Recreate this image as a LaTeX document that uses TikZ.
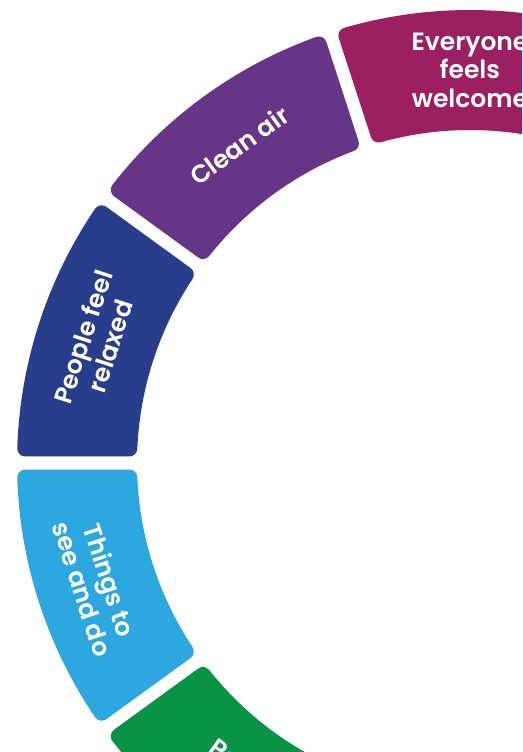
\documentclass[tikz,border=0pt]{standalone}
\usepackage{fontspec}
\setmainfont{Poppins}[BoldFont={Poppins SemiBold}]
\definecolor{cwelcome}{HTML}{9C1F61}
\definecolor{cclean}{HTML}{673587}
\definecolor{crelax}{HTML}{283E8D}
\definecolor{cthings}{HTML}{2DA7DF}
\definecolor{csafe}{HTML}{089346}
\newcommand\ringseg[3]{%
  \pgfmathsetmacro\ao{#1+1.87}\pgfmathsetmacro\bo{#2-1.87}%
  \pgfmathsetmacro\ai{#1+2.44}\pgfmathsetmacro\bi{#2-2.44}%
  \path[segment, fill=#3, draw=#3]
    ([shift={(470,289)}]\ao:445) arc[start angle=\ao, end angle=\bo, radius=445]
    -- ([shift={(470,289)}]\bi:341) arc[start angle=\bi, end angle=\ai, radius=341]
    -- cycle;}
\begin{document}
\begin{tikzpicture}[x=1pt,y=1pt,
  segment/.style={line width=16pt, line join=round},
  lbl/.style={text=white, font=\bfseries\fontsize{25}{28.5}\selectfont, align=center, inner sep=0pt}]
\useasboundingbox (0,0) rectangle (522,752);
\clip (0,0) rectangle (522,752);
\ringseg{72}{108}{cwelcome}
\ringseg{108}{144}{cclean}
\ringseg{144}{180}{crelax}
\ringseg{180}{216}{cthings}
\ringseg{216}{252}{csafe}
\node[lbl] (welcome) at ([shift={(470,289)}]90:393) {Everyone\\feels\\welcome};
\node[lbl, rotate=36] (cleanair) at ([shift={(470,289)}]126:393) {Clean air};
\node[lbl, rotate=72] (relaxed) at ([shift={(470,289)}]162:393) {People feel\\relaxed};
\node[lbl, rotate=-72] (things) at ([shift={(470,289)}]198:393) {Things to\\see and do};
\node[lbl, rotate=-36] (safe) at ([shift={(470,289)}]234:393) {People\\feel safe};
\end{tikzpicture}
\end{document}
